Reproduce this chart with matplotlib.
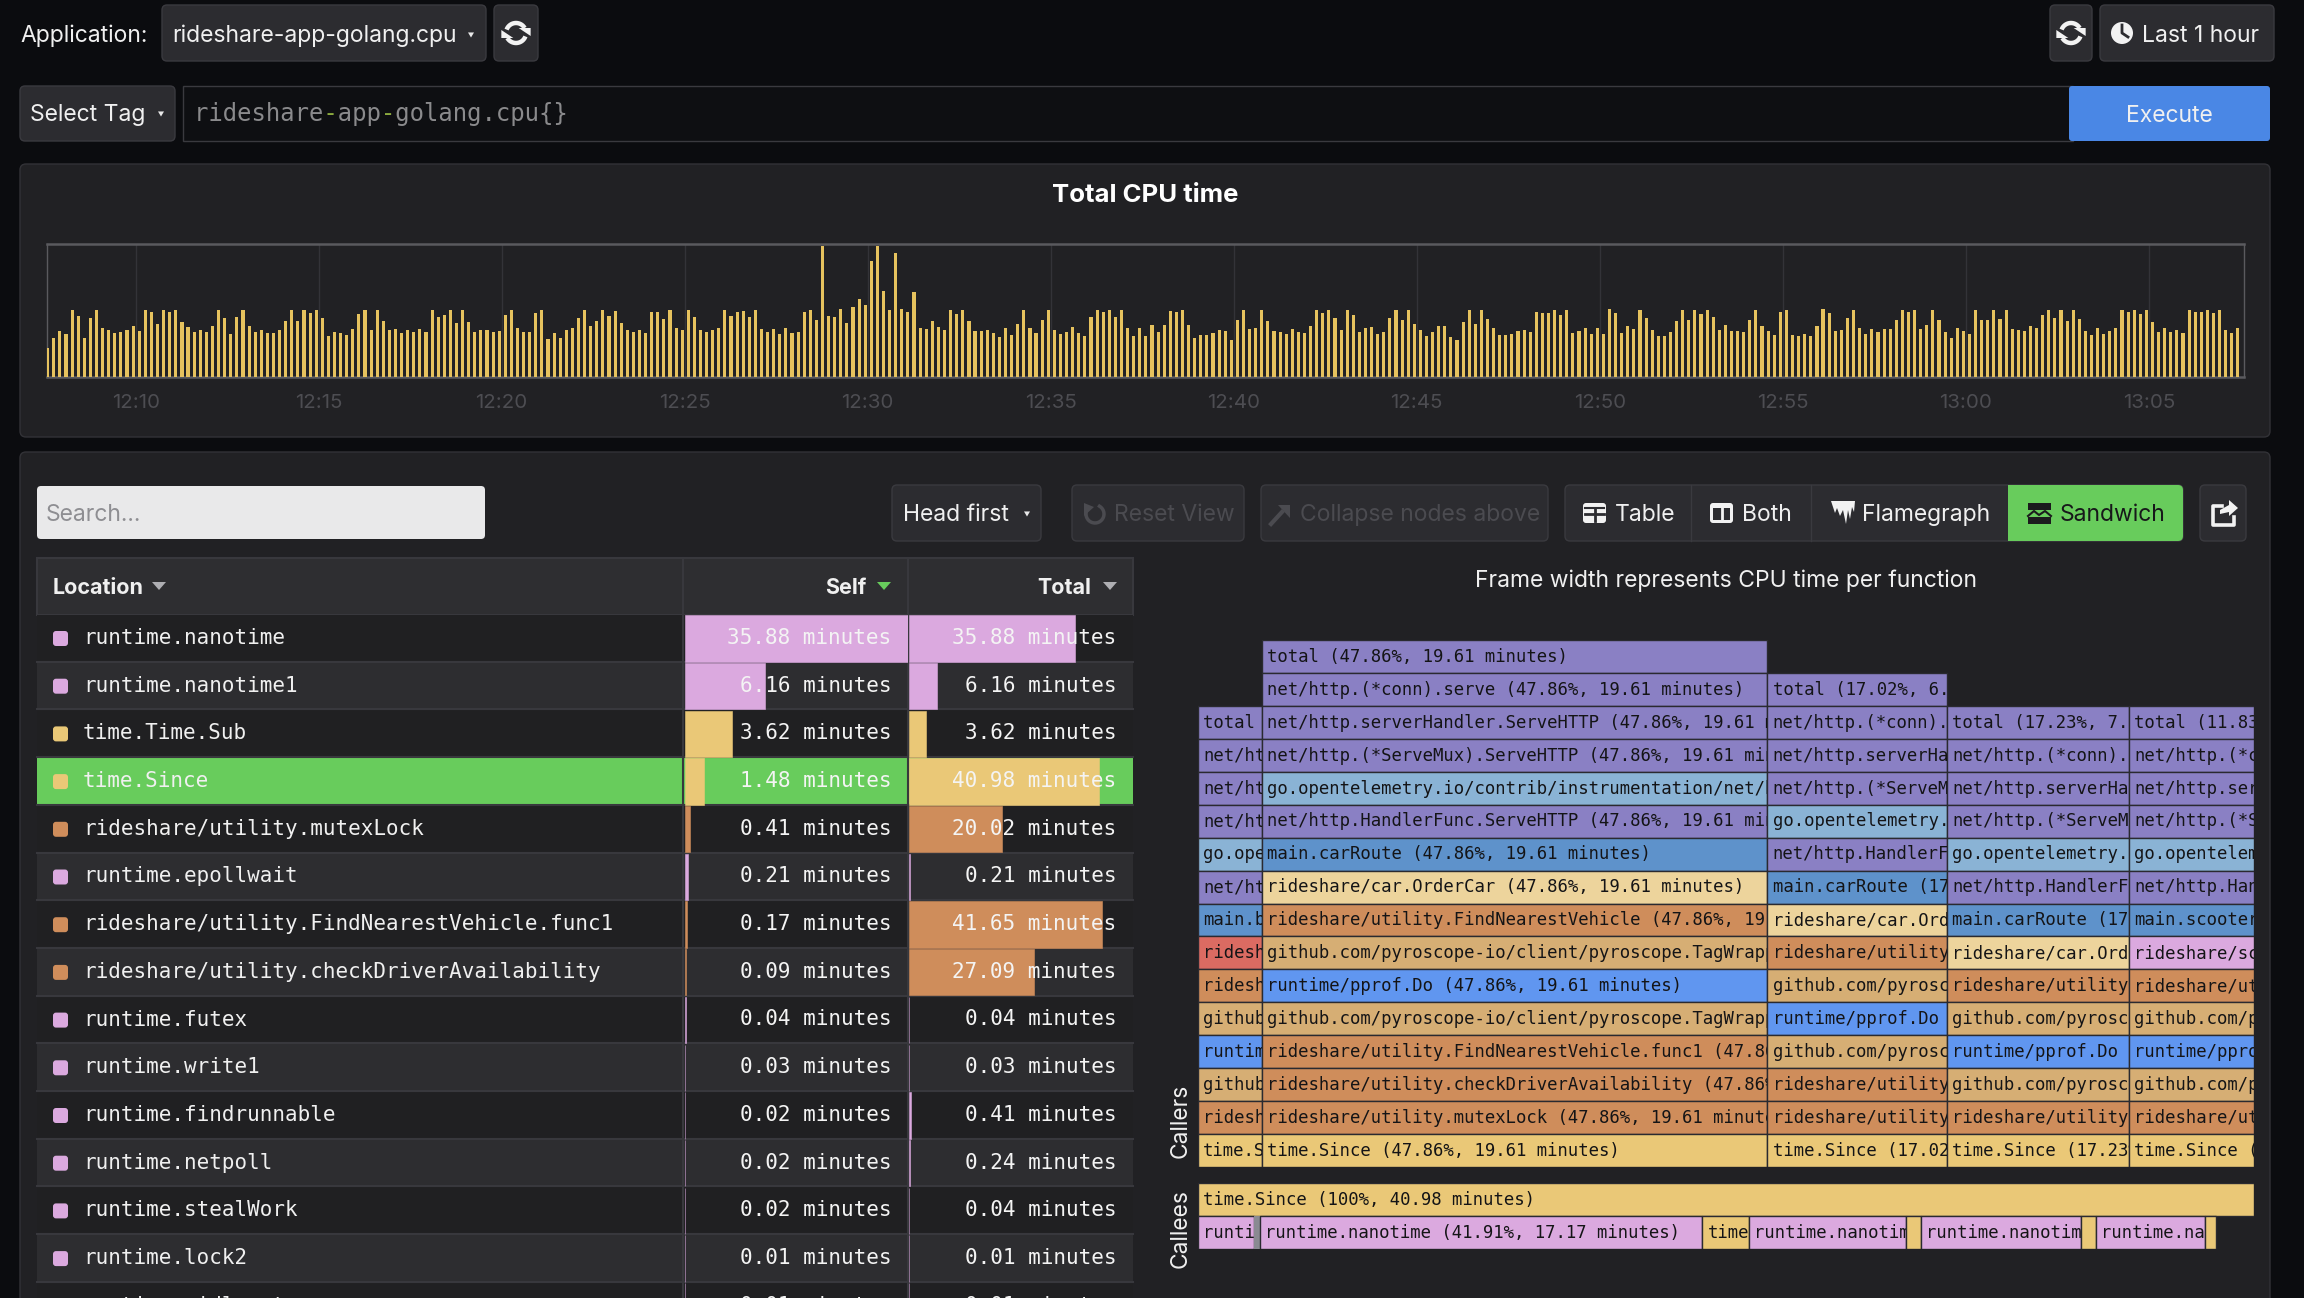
import math
import numpy as np
import matplotlib
matplotlib.use("Agg")
import matplotlib.pyplot as plt
from matplotlib.patches import FancyBboxPatch, Polygon, Rectangle, Circle

W, H = 2304, 1298
UI_FONT = "Inter"
MONO_FONT = "DejaVu Sans Mono"

# timeline, one bar every 10 seconds
cpu_time = [
    22, 29.5, 34.5, 32.5, 50, 46, 29, 44, 50, 37, 35.5, 33, 34, 35, 38, 34.5, 50, 48.5, 40, 50,
    48.5, 50, 41, 37.5, 34, 35, 34, 38, 50, 44, 32, 45, 50, 38, 34, 35, 33, 33, 35, 42,
    50, 42, 50, 48, 50, 44, 31, 33.5, 33, 31.5, 36, 47, 50, 35.5, 50, 42, 35, 36, 33, 35,
    34, 36, 33.5, 50, 45, 46.5, 50, 40.5, 50, 41.5, 34, 35, 35, 34, 34.5, 46.5, 50, 36.5, 33.5, 33.5,
    48, 50, 28.5, 33, 29, 35, 37, 44, 50, 38, 42, 50, 46, 49.5, 40.5, 35, 34, 35, 33, 48.5,
    49, 43.5, 50, 37, 35, 50, 45, 35, 33.5, 35, 36.5, 50, 46, 49, 49.5, 45, 50, 36, 33.5, 36,
    32, 36.5, 33, 34, 49, 50, 43, 98.5, 45.5, 45, 51, 40.5, 52.5, 59, 54, 87.5, 98.5, 65, 50.5, 93,
    51, 49, 64, 37, 36, 42, 37.5, 35, 50, 47, 50, 42, 34.5, 34.5, 35, 33, 30, 37, 31.5, 40,
    50, 36.5, 33, 42.5, 50.5, 35, 32, 34, 37.5, 33, 30.5, 45, 50, 49, 50, 45, 50.5, 37, 31, 37,
    31, 39, 33.5, 39, 49.5, 48.5, 50, 39, 29, 31.5, 31.5, 33, 35, 34.5, 28, 43, 50, 36, 37, 50,
    42, 34.5, 34, 32, 36, 34, 33, 38, 50, 48, 50, 44, 35, 50, 46.5, 33.5, 37, 37.5, 32, 34,
    44, 50.5, 43, 50, 40, 35.5, 31, 34, 38, 38, 30, 27.5, 41, 50, 39.5, 50, 43.5, 36.5, 31.5, 31.5,
    32, 34.5, 35, 34, 49, 48, 48, 50, 46.5, 50, 33, 34.5, 36.5, 32, 37, 32, 51, 48, 33, 38,
    36, 50, 44, 35, 31, 30.5, 34, 42, 50, 43, 50.5, 47, 50, 45, 35, 39, 34.5, 34.5, 34, 43,
    50, 38, 34.5, 31.5, 49, 50, 31.5, 31, 32, 31, 38, 51, 48, 34.5, 35.5, 44, 50, 37, 32, 36,
    34, 36, 36, 43, 50, 49, 50, 36, 39, 50, 42.5, 33.5, 29, 37, 34.5, 32, 50, 42.5, 42.5, 50,
    43.5, 50.5, 36, 35, 34.5, 38, 37, 46.5, 50.5, 44, 50, 42, 50, 43.5, 34.5, 31.5, 37, 32.5, 34.5, 37,
    50, 49, 50, 47, 50, 41, 34, 36.5, 33.5, 35, 33, 50.5, 49, 49, 50, 48, 50, 35.5, 33, 37,
]
tick_minutes = [10, 15, 20, 25, 30, 35, 40, 45, 50, 55, 60, 65]
tick_labels = ["12:10", "12:15", "12:20", "12:25", "12:30", "12:35",
               "12:40", "12:45", "12:50", "12:55", "13:00", "13:05"]

# table
locations = ["runtime.nanotime", "runtime.nanotime1", "time.Time.Sub", "time.Since",
             "rideshare/utility.mutexLock", "runtime.epollwait",
             "rideshare/utility.FindNearestVehicle.func1", "rideshare/utility.checkDriverAvailability",
             "runtime.futex", "runtime.write1", "runtime.findrunnable", "runtime.netpoll",
             "runtime.stealWork", "runtime.lock2", "runtime.pidleput"]
self_minutes = [35.88, 6.16, 3.62, 1.48, 0.41, 0.21, 0.17, 0.09, 0.04, 0.03, 0.02, 0.02, 0.02, 0.01, 0.01]
total_minutes = [35.88, 6.16, 3.62, 40.98, 20.02, 0.21, 41.65, 27.09, 0.04, 0.03, 0.41, 0.24, 0.04, 0.01, 0.01]

# sandwich view
TOTAL = "total"
CONN = "net/http.(*conn).serve"
HANDLER = "net/http.serverHandler.ServeHTTP"
MUX = "net/http.(*ServeMux).ServeHTTP"
OTEL = "go.opentelemetry.io/contrib/instrumentation/net/http/otelhttp.(*Handler).ServeHTTP"
HFUNC = "net/http.HandlerFunc.ServeHTTP"
TAG = "github.com/pyroscope-io/client/pyroscope.TagWrapper"
PPROF = "runtime/pprof.Do"
NEAREST = "rideshare/utility.FindNearestVehicle"
FUNC1 = "rideshare/utility.FindNearestVehicle.func1"
CHECK = "rideshare/utility.checkDriverAvailability"
MUTEX = "rideshare/utility.mutexLock"
SINCE = "time.Since"

caller_pcts = [6.06, 47.86, 17.02, 17.23, 11.83]
caller_minutes = [2.48, 19.61, 6.98, 7.06, 4.85]
caller_stacks = [
    [TOTAL, CONN, HANDLER, MUX, OTEL, HFUNC, "main.bikeRoute", "rideshare/bike.OrderBike",
     NEAREST, TAG, PPROF, TAG, MUTEX, SINCE],
    [TOTAL, CONN, HANDLER, MUX, OTEL, HFUNC, "main.carRoute", "rideshare/car.OrderCar",
     NEAREST, TAG, PPROF, TAG, FUNC1, CHECK, MUTEX, SINCE],
    [TOTAL, CONN, HANDLER, MUX, OTEL, HFUNC, "main.carRoute", "rideshare/car.OrderCar",
     NEAREST, TAG, PPROF, TAG, CHECK, MUTEX, SINCE],
    [TOTAL, CONN, HANDLER, MUX, OTEL, HFUNC, "main.carRoute", "rideshare/car.OrderCar",
     NEAREST, TAG, PPROF, TAG, MUTEX, SINCE],
    [TOTAL, CONN, HANDLER, MUX, OTEL, HFUNC, "main.scooterRoute", "rideshare/scooter.OrderScooter",
     NEAREST, TAG, PPROF, TAG, MUTEX, SINCE],
]
callee_names = ["runtime.nanotime", "runtime.nanotime1", "runtime.nanotime", "time.Time.Sub",
                "runtime.nanotime", "time.Time.Sub", "runtime.nanotime", "time.Time.Sub",
                "runtime.nanotime", "time.Time.Sub"]
callee_pcts = [5.35, 0.48, 41.91, 4.45, 14.87, 1.42, 15.15, 1.42, 10.32, 1.04]
callee_minutes = [2.19, 0.2, 17.17, 1.82, 6.09, 0.58, 6.21, 0.58, 4.23, 0.43]

COLORS = [("total", "#8A80C4"), ("net/http", "#8A80C4"), ("go.opentelemetry", "#8AB3D5"),
          ("main.", "#5E92CB"), ("rideshare/car", "#EDD49C"), ("rideshare/bike", "#DB6B62"),
          ("rideshare/scooter", "#DBA9DF"), ("rideshare/utility", "#CF8D5B"),
          ("github.com", "#D6AE74"), ("runtime/pprof", "#6096F0"),
          ("time.", "#EAC877"), ("runtime", "#DBA9DF")]


def color_of(name):
    for prefix, col in COLORS:
        if name.startswith(prefix):
            return col
    return "#888888"


def px_axes(x0, y0, x1, y1, z=2):
    ax = fig.add_axes([x0 / W, 1 - y1 / H, (x1 - x0) / W, (y1 - y0) / H], zorder=z)
    ax.patch.set_visible(False)
    return ax


def box(x0, y0, x1, y1, fc, ec="none", r=5, lw=1.0, z=1):
    ui.add_patch(FancyBboxPatch((x0, y0), x1 - x0, y1 - y0, boxstyle=f"round,pad=0,rounding_size={r}",
                                fc=fc, ec=ec, lw=lw, zorder=z))


def label(x, y, s, size=16.5, color="#F0F0F0", ha="left", family=UI_FONT, **kw):
    # Inter sits a bit high with va=center
    dy = 2.5 if family == UI_FONT and "rotation" not in kw else 0
    ui.text(x, y + dy, s, fontsize=size, color=color, ha=ha, va="center", family=family, zorder=5, **kw)


def caret(x, y, w=4, h=None, color="#E8E8E8"):
    h = h or w * 1.7
    ui.add_patch(Polygon([(x - w, y - h / 2), (x + w, y - h / 2), (x, y + h / 2)], fc=color, ec="none", zorder=5))


def refresh_icon(cx, cy, r=10, color="#F2F2F2"):
    for a0 in (200, 20):
        t = np.radians(np.linspace(a0, a0 + 130, 30))
        ui.plot(cx + r * np.cos(t), cy + r * np.sin(t), color=color, lw=3.2, solid_capstyle="butt", zorder=5)
        ex, ey = cx + r * np.cos(t[-1]), cy + r * np.sin(t[-1])
        sgn = 1 if a0 == 20 else -1
        ui.add_patch(Polygon([(ex - sgn * 6, ey), (ex + sgn * 6, ey), (ex - sgn * 6, ey - sgn * 8)],
                             fc=color, ec="none", zorder=5))


fig = plt.figure(figsize=(W / 100, H / 100), dpi=100, facecolor="#0B0C0F")
ui = fig.add_axes([0, 0, 1, 1], zorder=0)
ui.set_xlim(0, W)
ui.set_ylim(H, 0)
ui.axis("off")

BTN = "#2C2C30"
BTN_EDGE = "#3A3A3F"
PANEL = "#212124"

# top controls
label(20, 33, "Application:")
box(162, 5, 486, 61, BTN, BTN_EDGE)
label(172, 33, "rideshare-app-golang.cpu")
caret(471, 35, 3)
box(494, 5, 538, 61, BTN, BTN_EDGE)
refresh_icon(516, 33)
box(2050, 5, 2092, 61, BTN, BTN_EDGE)
refresh_icon(2071, 33)
box(2100, 5, 2274, 61, BTN, BTN_EDGE)
ui.add_patch(Circle((2122, 33), 11, fc="#F2F2F2", ec="none", zorder=5))
ui.plot([2122, 2122, 2128], [25, 33, 37], color=BTN, lw=2, zorder=6)
label(2142, 34, "Last 1 hour")

box(20, 86, 175, 141, BTN, BTN_EDGE)
label(30, 113, "Select Tag")
caret(161, 114, 3)
ui.add_patch(Rectangle((183, 86), 1890, 55, fc="#0E0F12", ec="#3A3A3F", lw=1, zorder=1))
query = "rideshare-app-golang.cpu{}"
label(194, 114, query.replace("-", " "), size=17.2, color="#8A8A8C", family=MONO_FONT)
label(194, 114, "".join(c if c == "-" else " " for c in query), size=17.2, color="#8CAB3F", family=MONO_FONT)
box(2069, 86, 2270, 141, "#4A87E5", r=3)
label(2169, 113, "Execute", ha="center")

# panels
box(20, 164, 2270, 437, PANEL, "#323237", r=6)
box(20, 452, 2270, 1330, PANEL, "#323237", r=6)
label(1145, 193.5, "Total CPU time", size=18.5, color="white", ha="center", fontweight="bold")

# timeline
tl = px_axes(47, 244, 2244, 377)
minutes = 7.6 + np.arange(len(cpu_time)) / 6
tl.bar(minutes, cpu_time, width=0.085, color="#E6C25E", zorder=3)
tl.set_xlim(7.58, 67.6)
tl.set_ylim(0, 100)
tl.set_yticks([])
tl.set_xticks(tick_minutes)
tl.set_xticklabels(tick_labels, fontsize=14.8, color="#4D4D52", family=UI_FONT)
tl.tick_params(axis="x", length=0, pad=12.5)
tl.grid(axis="x", color="#333338", lw=1)
tl.set_axisbelow(True)
for side, lw in zip(["top", "bottom", "left", "right"], [1.8, 1.8, 1.0, 1.0]):
    tl.spines[side].set_color("#5A5A5E")
    tl.spines[side].set_linewidth(lw)

# toolbar
box(37, 486, 485, 539, "#E9E9EA", r=4)
label(46, 512.5, "Search...", color="#8E8E92")
box(892, 485, 1041, 541, BTN, BTN_EDGE)
label(903, 512.5, "Head first")
caret(1027, 514, 3)
DISABLED = "#4B4B50"
box(1072, 485, 1244, 541, BTN, BTN_EDGE)
t = np.radians(np.linspace(-60, 200, 30))
ui.plot(1095 + 9 * np.cos(t), 514 + 9 * np.sin(t), color=DISABLED, lw=2.5, zorder=5)
ui.add_patch(Polygon([(1084, 503), (1094, 507), (1084, 516)], fc=DISABLED, zorder=5))
label(1114, 512.5, "Reset View", color=DISABLED)
box(1261, 485, 1548, 541, BTN, BTN_EDGE)
ui.plot([1271, 1282], [524, 512], color=DISABLED, lw=3, zorder=5)
ui.add_patch(Polygon([(1278, 505), (1290, 505), (1290, 518)], fc=DISABLED, zorder=5))
label(1300, 512.5, "Collapse nodes above", color=DISABLED)

box(1565, 485, 2183, 541, BTN, BTN_EDGE)
ui.add_patch(Rectangle((2008, 485), 120, 56, fc="#68CC5C", ec="none", zorder=2))
box(2100, 485, 2183, 541, "#68CC5C", z=2)
for sep in (1691, 1811):
    ui.plot([sep, sep], [485, 541], color=BTN_EDGE, lw=1, zorder=3)
# table icon
box(1583, 503, 1606, 523, "#F2F2F2", r=3, z=5)
ui.plot([1594.5, 1594.5], [508, 521], color=BTN, lw=2, zorder=6)
ui.plot([1585, 1604], [514, 514], color=BTN, lw=2, zorder=6)
ui.plot([1585, 1604], [508, 508], color=BTN, lw=1.5, zorder=6)
label(1615, 512.5, "Table")
# both icon
box(1710, 503, 1733, 523, "#F2F2F2", r=3, z=5)
ui.add_patch(Rectangle((1713, 508), 17, 12, fc=BTN, ec="none", zorder=6))
ui.plot([1721.5, 1721.5], [508, 520], color="#F2F2F2", lw=2, zorder=7)
label(1742, 512.5, "Both")
# flamegraph icon
ui.add_patch(Polygon([(1831, 501), (1855, 501), (1854, 512), (1852, 507), (1850, 519), (1848, 510), (1846, 524),
                      (1843, 510), (1840, 516), (1837, 508), (1835, 513)], fc="#F2F2F2", ec="none", zorder=5))
label(1862, 512.5, "Flamegraph")
# sandwich icon
ui.add_patch(Rectangle((2028, 503), 23, 7, fc="#1B1B1D", zorder=5))
ui.add_patch(Rectangle((2028, 517), 23, 7, fc="#1B1B1D", zorder=5))
ui.plot([2028, 2034, 2039, 2045, 2051], [516, 511, 515, 511, 516], color="#1B1B1D", lw=1.5, zorder=5)
label(2060, 512.5, "Sandwich", color="#17181A")
# share icon
box(2200, 485, 2246, 541, BTN, BTN_EDGE)
ui.plot([2234, 2234, 2213, 2213, 2222], [517, 525, 525, 506, 506], color="#F2F2F2", lw=2.6, zorder=5)
ui.add_patch(Polygon([(2229, 500), (2238, 508), (2229, 516), (2229, 512), (2220, 514), (2220, 510), (2229, 505)],
                     fc="#F2F2F2", zorder=5))

label(1726, 578, "Frame width represents CPU time per function", ha="center")

# table
ROW_H = 47.7
ui.add_patch(Rectangle((37, 558), 1096, 57, fc="#2E2E31", ec="#38383D", lw=1.5, zorder=1))
for sep in (683, 908):
    ui.plot([sep, sep], [558, 1298], color="#38383D", lw=1.5, zorder=2)
label(53, 585, "Location", fontweight="bold", size=15.5)
caret(159, 586, 7, 8, "#AEAEB2")
label(866, 585, "Self", fontweight="bold", size=15.5, ha="right")
caret(884, 586, 7, 8, "#68CC5C")
label(1091, 585, "Total", fontweight="bold", size=15.5, ha="right")
caret(1110, 586, 7, 8, "#AEAEB2")

for i, name in enumerate(locations):
    y0 = 615 + i * ROW_H
    bg = "#68CC5C" if name == "time.Since" else ("#2D2D30" if i % 2 else "#202022")
    ui.add_patch(Rectangle((37, y0), 1096, ROW_H - 1.5, fc=bg, ec="none", zorder=1))
    ui.plot([37, 1133], [y0 + ROW_H - 1, y0 + ROW_H - 1], color="#38383D", lw=1.5, zorder=2)
    box(53, y0 + 16, 68, y0 + 31, color_of(name), r=3, z=4)
    label(83, y0 + 23, name, size=15, family=MONO_FONT)

n_rows = (H - 615) / ROW_H
for (x0, x1, vals, vmax, txt_x) in [(685, 907.5, self_minutes, 17.2, 891.5), (909, 1132, total_minutes, 48.2, 1116.5)]:
    cell = px_axes(x0, 615, x1, H, z=3)
    cols = [color_of(n) for n in locations]
    cell.barh(np.arange(len(vals)) + 0.49, vals, height=0.97, color=cols, edgecolor=cols, linewidth=0.4)
    cell.set_xlim(0, vmax)
    cell.set_ylim(n_rows, 0)
    cell.axis("off")
    for i, v in enumerate(vals):
        cell.text((txt_x - x0) / (x1 - x0) * vmax, i + 0.48, f"{v:.2f} minutes", ha="right", va="center",
                  fontsize=15.1, color="#F4F4F4", family=MONO_FONT)


def draw_frame(ax, left, row, pct, name, mins):
    col = color_of(name)
    rect = ax.barh(row + 0.5, pct, left=left, height=1, color=col, edgecolor="#2A2A30", linewidth=1)[0]
    if pct < 2:
        return  # too narrow for a label
    # the frame cuts its label, so only keep the characters that can show
    n_chars = math.ceil((pct / 100 * 1056 - 5) / 10.36)
    s = f"{name} ({pct:g}%, {mins:g} minutes)"[:n_chars]
    txt = ax.text(left + 0.5, row + 0.51, s, ha="left", va="center", fontsize=12.4, color="#141416",
                  family=MONO_FONT, clip_on=True)
    txt.set_clip_path(rect)


# callers
callers = px_axes(1198, 640, 2254, 1167)
callers.set_xlim(0, 100)
callers.set_ylim(16, 0)
callers.axis("off")
left = 0
for pct, mins, stack in zip(caller_pcts, caller_minutes, caller_stacks):
    for row, name in enumerate(stack, start=16 - len(stack)):
        draw_frame(callers, left, row, pct, name, mins)
    left += pct

# callees
callees = px_axes(1198, 1183, 2254, 1249)
callees.set_xlim(0, 100)
callees.set_ylim(2, 0)
callees.axis("off")
draw_frame(callees, 0, 0, 100, SINCE, 40.98)
left = 0
for pct, mins, name in zip(callee_pcts, callee_minutes, callee_names):
    if pct < 1:
        callees.barh(1.5, pct, left=left, height=1, color="#8A8A92", edgecolor="none")
    else:
        draw_frame(callees, left, 1, pct, name, mins)
    left += pct

label(1181, 1121, "Callers", ha="center", rotation=90, size=16.4)
label(1181, 1229, "Callees", ha="center", rotation=90, size=16.4)

fig.savefig("out.png", dpi=100)
